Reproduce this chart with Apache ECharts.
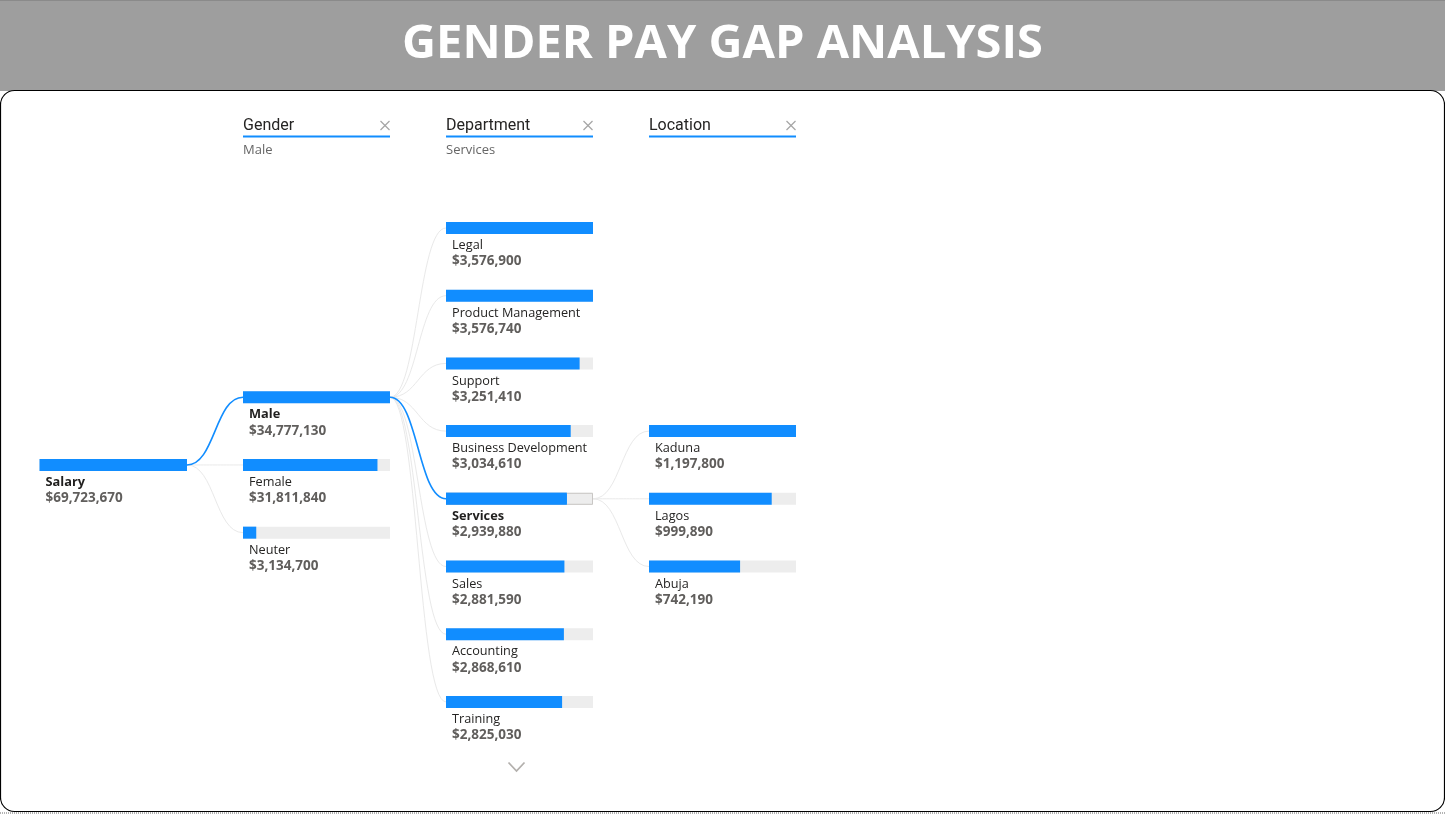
<!DOCTYPE html>
<html>
<head>
<meta charset="utf-8">
<title>Gender Pay Gap Analysis</title>
<style>
    html, body { margin: 0; padding: 0; background: #fff; }
    #chart { width: 1445px; height: 814px; }
</style>
<script src="https://cdn.jsdelivr.net/npm/echarts@6/dist/echarts.min.js"></script>
</head>
<body>
<div id="chart"></div>
<script>
const salaryNames = ['Salary'];
const salaryValues = [69723670];
const genderNames = ['Male', 'Female', 'Neuter'];
const genderValues = [34777130, 31811840, 3134700];
const departmentNames = ['Legal', 'Product Management', 'Support', 'Business Development', 'Services', 'Sales', 'Accounting', 'Training'];
const departmentValues = [3576900, 3576740, 3251410, 3034610, 2939880, 2881590, 2868610, 2825030];
const locationNames = ['Kaduna', 'Lagos', 'Abuja'];
const locationValues = [1197800, 999890, 742190];
const headerLabels = ['Gender', 'Department', 'Location'];
const headerPicks = ['Male', 'Services', ''];

const BLUE = '#118DFF';
const FONT = '"Open Sans", "Noto Sans", sans-serif';
const ROW_TOP = 228; // centre of the first row
const ROW_H = 67.7;
const COL_W = 147;

// 每列：x位置、第一行所在的行号、选中项
const columns = [
    { names: salaryNames, values: salaryValues, left: 39.5, start: 3.5, picked: 0, width: 147.5 },
    { names: genderNames, values: genderValues, left: 243, start: 2.5, picked: 0, width: COL_W },
    { names: departmentNames, values: departmentValues, left: 446, start: 0, picked: 4, width: COL_W },
    { names: locationNames, values: locationValues, left: 649, start: 3, picked: -1, width: COL_W }
];

function money(v) {
    return '$' + v.toLocaleString('en-US');
}

const grids = [];
const xAxes = [];
const yAxes = [];
const series = [];

columns.forEach(function (col, c) {
    const max = Math.max.apply(null, col.values);
    grids.push({
        left: col.left,
        width: col.width,
        top: ROW_TOP + (col.start - 0.5) * ROW_H,
        height: col.names.length * ROW_H
    });
    xAxes.push({ gridIndex: c, type: 'value', min: 0, max: max, show: false });
    yAxes.push({ gridIndex: c, type: 'category', inverse: true, data: col.names, show: false });

    series.push({
        type: 'bar',
        name: headerLabels[c - 1] || 'Salary',
        xAxisIndex: c,
        yAxisIndex: c,
        barWidth: 12,
        barGap: '-100%',
        silent: true,
        showBackground: true,
        backgroundStyle: { color: '#EDEDED' },
        itemStyle: { color: BLUE },
        data: col.values.map(function (v, i) {
            return { value: v, name: col.names[i] };
        }),
        label: {
            show: true,
            position: [6, 15.5],
            align: 'left',
            verticalAlign: 'top',
            formatter: function (p) {
                const tag = p.dataIndex === col.picked ? 'on' : 'off';
                return '{' + tag + '|' + p.name + '}\n{val|' + money(p.value) + '}';
            },
            rich: {
                on: { fontFamily: FONT, fontSize: 12.8, fontWeight: 'bold', color: '#201F1E', lineHeight: 16 },
                off: { fontFamily: FONT, fontSize: 12.7, color: '#252423', lineHeight: 16 },
                val: { fontFamily: FONT, fontSize: 13.5, fontWeight: 'bold', color: '#605E5C', lineHeight: 16 }
            }
        }
    });
});

// Services 选中时的灰色外框，蓝色部分再盖一层
const pickedIndex = columns[2].picked;
series.push({
    type: 'bar',
    name: 'picked',
    xAxisIndex: 2,
    yAxisIndex: 2,
    barWidth: 12,
    barGap: '-100%',
    silent: true,
    itemStyle: { color: 'transparent', borderColor: '#C8C6C4', borderWidth: 1 },
    data: departmentNames.map(function (n, i) {
        return i === pickedIndex ? Math.max.apply(null, departmentValues) : null;
    })
});
series.push({
    type: 'bar',
    name: 'pickedFill',
    xAxisIndex: 2,
    yAxisIndex: 2,
    barWidth: 12,
    barGap: '-100%',
    silent: true,
    itemStyle: { color: BLUE },
    data: departmentValues.map(function (v, i) {
        return i === pickedIndex ? v : null;
    })
});

// 连接线：每两列之间一个grid，y轴统一用行号
for (let c = 0; c < columns.length - 1; c++) {
    const from = columns[c];
    const to = columns[c + 1];
    const gi = grids.length;
    const fromRow = from.start + Math.max(from.picked, 0);
    const links = to.names.map(function (n, i) {
        return [fromRow, to.start + i, i === to.picked ? 1 : 0];
    }).sort(function (a, b) { return a[2] - b[2]; });

    grids.push({
        left: from.left + from.width,
        width: to.left - from.left - from.width,
        top: ROW_TOP - 0.5 * ROW_H,
        height: 8 * ROW_H
    });
    xAxes.push({ gridIndex: gi, type: 'value', min: 0, max: 1, show: false });
    yAxes.push({ gridIndex: gi, type: 'value', inverse: true, min: -0.5, max: 7.5, show: false });
    series.push({
        type: 'custom',
        name: 'links' + c,
        xAxisIndex: gi,
        yAxisIndex: gi,
        silent: true,
        clip: false,
        encode: { x: -1, y: [0, 1] },
        data: links,
        renderItem: function (params, api) {
            const a = api.coord([0, api.value(0)]);
            const b = api.coord([1, api.value(1)]);
            const mid = (a[0] + b[0]) / 2;
            const active = api.value(2) === 1;
            return {
                type: 'bezierCurve',
                shape: { x1: a[0], y1: a[1], x2: b[0], y2: b[1], cpx1: mid, cpy1: a[1], cpx2: mid, cpy2: b[1] },
                style: { fill: null, stroke: active ? BLUE : '#E9E9E9', lineWidth: active ? 1.6 : 1 }
            };
        }
    });
}

// 页面外壳和列标题
const graphics = [
    { type: 'rect', z: -2, shape: { x: 0, y: 0, width: 1445, height: 91 }, style: { fill: '#9E9E9E' } },
    { type: 'rect', z: -1, shape: { x: 0, y: 0, width: 1445, height: 1 }, style: { fill: '#8A8A8A' } },
    { type: 'rect', z: -1, shape: { x: 0.5, y: 90.5, width: 1444, height: 721, r: 14 }, style: { fill: '#fff', stroke: '#000', lineWidth: 1.2 } },
    { type: 'line', z: -1, shape: { x1: 0, y1: 813, x2: 1445, y2: 813 }, style: { stroke: '#666', lineWidth: 1, lineDash: [1, 1] } }
];

headerLabels.forEach(function (text, i) {
    const x = columns[i + 1].left;
    const w = columns[i + 1].width;
    graphics.push({
        type: 'text', x: x, y: 125.5,
        style: { text: text, fontFamily: 'Roboto, sans-serif', fontSize: 16, fill: '#252423', textVerticalAlign: 'middle', letterSpacing: 0.9 }
    });
    graphics.push({ type: 'rect', shape: { x: x, y: 135.5, width: w, height: 2 }, style: { fill: BLUE } });
    graphics.push({ type: 'line', shape: { x1: x + 137.5, y1: 121, x2: x + 146.5, y2: 130 }, style: { stroke: '#A6A6A6', lineWidth: 1.3 } });
    graphics.push({ type: 'line', shape: { x1: x + 146.5, y1: 121, x2: x + 137.5, y2: 130 }, style: { stroke: '#A6A6A6', lineWidth: 1.3 } });
    if (headerPicks[i]) {
        graphics.push({
            type: 'text', x: x, y: 150,
            style: { text: headerPicks[i], fontFamily: FONT, fontSize: 13, fill: '#666', textVerticalAlign: 'middle' }
        });
    }
});

// 向下滚动的箭头
graphics.push({
    type: 'polyline',
    shape: { points: [[508.5, 762.5], [516.5, 771], [524.5, 762.5]] },
    style: { fill: null, stroke: '#B3B0AD', lineWidth: 1.8 }
});

const myChart = echarts.init(document.getElementById('chart'));
myChart.setOption({
    animation: false,
    backgroundColor: '#fff',
    title: {
        text: 'GENDER PAY GAP ANALYSIS',
        left: 'center',
        top: 16,
        textStyle: { fontFamily: FONT, fontSize: 47, fontWeight: 'bold', color: '#fff' }
    },
    graphic: graphics,
    grid: grids,
    xAxis: xAxes,
    yAxis: yAxes,
    series: series
});
</script>
</body>
</html>
